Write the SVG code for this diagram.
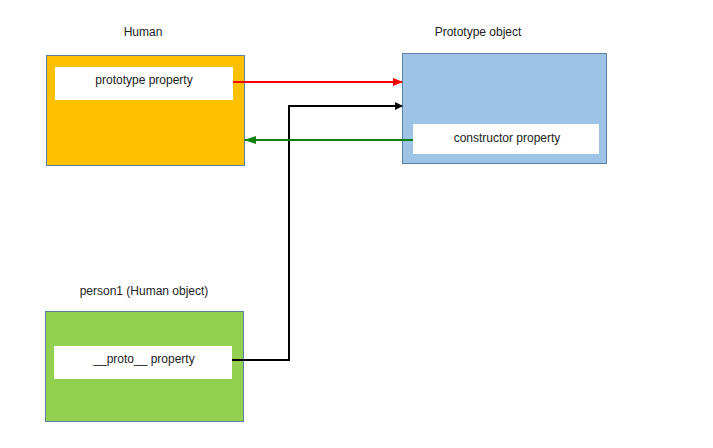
<svg xmlns="http://www.w3.org/2000/svg" width="713" height="448" viewBox="0 0 713 448">
<style>
.box{stroke:#5b7fa6;stroke-width:1}
.inner{fill:#fff}
text{font-family:"Liberation Sans",Arial,sans-serif;font-size:12px;fill:#222;text-anchor:middle}
.conn{fill:none;stroke-width:2}
</style>
<defs>
<marker id="ar" markerWidth="10" markerHeight="8" refX="9" refY="4" orient="auto" markerUnits="userSpaceOnUse"><path d="M0,0 L10,4 L0,8 z" fill="#ff0000"/></marker>
<marker id="ab" markerWidth="8" markerHeight="8" refX="7" refY="4" orient="auto" markerUnits="userSpaceOnUse"><path d="M0,0 L8,4 L0,8 z" fill="#000"/></marker>
<marker id="ag" markerWidth="12" markerHeight="8" refX="11" refY="4" orient="auto" markerUnits="userSpaceOnUse"><path d="M0,0 L12,4 L0,8 z" fill="#108010"/></marker>
</defs>
<rect width="713" height="448" fill="#fff"/>
<g id="human">
<text x="143" y="36">Human</text>
<rect class="box" x="46.5" y="55.5" width="198" height="110" fill="#ffc000"/>
<rect class="inner" x="55" y="67" width="178" height="33"/>
<text x="144" y="84">prototype property</text>
</g>
<g id="prototype">
<text x="478" y="36">Prototype object</text>
<rect class="box" x="402.5" y="53.5" width="204" height="110" fill="#9dc3e6"/>
<rect class="inner" x="413" y="124" width="186" height="30"/>
<text x="507" y="142">constructor property</text>
</g>
<g id="person1">
<text x="144" y="295">person1 (Human object)</text>
<rect class="box" x="45.5" y="311.5" width="198" height="110" fill="#92d050"/>
<rect class="inner" x="54" y="346" width="178" height="33"/>
<text x="144" y="363">__proto__ property</text>
</g>
<g id="connectors">
<path class="conn" d="M233,82 H402" stroke="#ff0000" marker-end="url(#ar)"/>
<path class="conn" d="M232,360 H289 V106 H402" stroke="#000" marker-end="url(#ab)"/>
<path class="conn" d="M413,140 H245" stroke="#108010" marker-end="url(#ag)"/>
</g>
</svg>
